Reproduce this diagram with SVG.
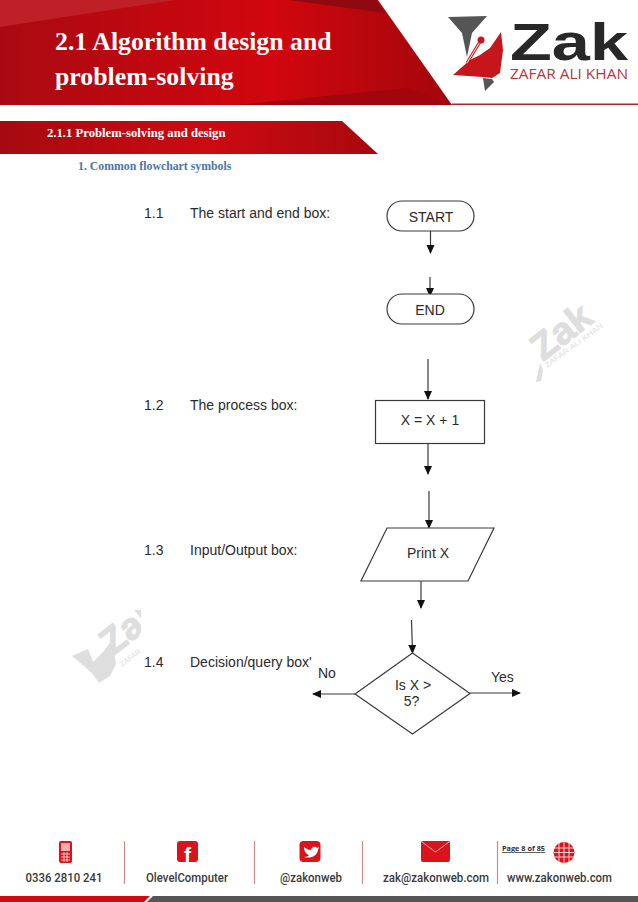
<svg xmlns="http://www.w3.org/2000/svg" width="638" height="902" viewBox="0 0 638 902">
<style>
.fc{font-family:"Liberation Sans",Arial,sans-serif;fill:#2b2b2b}
.t{font-size:14px}
.s{fill:#fff;stroke:#3a3a3a;stroke-width:1.2}
.l{fill:none;stroke:#3a3a3a;stroke-width:1.2}
.ser{font-family:"Liberation Serif","Times New Roman",serif;font-weight:bold}
.ft{font-family:"Roboto","Liberation Sans",sans-serif;font-size:12.500px;fill:#3a3a3a;font-weight:500;text-anchor:middle}
.sep{stroke:#cf8a8a;stroke-width:1.200}
.ic{fill:#d9141c}
.wm{fill:#dedede}
.wt{font-family:"Liberation Sans",sans-serif;fill:#dedede}
</style>
<defs>
<linearGradient id="g1" x1="0" y1="0" x2="1" y2="0"><stop offset="0" stop-color="#a90a12"/><stop offset="0.6" stop-color="#d2060e"/><stop offset="1" stop-color="#a3060c"/></linearGradient>
<linearGradient id="g2" x1="0" y1="0" x2="1" y2="0"><stop offset="0" stop-color="#a50a10"/><stop offset="0.55" stop-color="#cc0a12"/><stop offset="1" stop-color="#a8080e"/></linearGradient>
<marker id="a" markerWidth="9" markerHeight="9" refX="8" refY="4" orient="auto" markerUnits="userSpaceOnUse"><path d="M0 0L9 4L0 8Z" fill="#111"/></marker>
<clipPath id="wc"><rect x="60" y="610" width="81" height="85"/></clipPath>
</defs>
<rect width="638" height="902" fill="#fff"/>
<g id="header">
<path d="M0 0H378L452 105H0Z" fill="url(#g1)"/>
<path d="M0 0H175L0 27Z" fill="#bf2028"/>
<path d="M289 0H376L385 13Z" fill="#8f0a10"/>
<path d="M236 105L407 88L452 105Z" fill="#a0060c"/>
<rect x="452" y="103.500" width="186" height="1.500" fill="#a8282c"/>
<text class="ser" x="55" y="50" font-size="25.800" fill="#fff">2.1 Algorithm design and</text>
<text class="ser" x="55" y="85" font-size="25.800" fill="#fff">problem-solving</text>
</g>
<g id="logo">
<path d="M448 17L487 16L472 33L467 57L462 33Z" fill="#555"/>
<path d="M453 75L470 60L480 55L490 48L501 32L503 50L500 73L492 78L483 77Z" fill="#c5161c"/>
<path d="M483 78L492 79L494 82L485 91Z" fill="#555"/>
<path d="M467 63L481 40" fill="none" stroke="#c5161c" stroke-width="3"/>
<path d="M467 63L481 40" fill="none" stroke="#fff" stroke-width="1"/>
<circle cx="481" cy="40" r="3.500" fill="#c5161c"/>
<text x="510" y="60" font-family="'Liberation Sans',sans-serif" font-weight="bold" font-size="52" textLength="118" lengthAdjust="spacingAndGlyphs" fill="#282828">Zak</text>
<text x="510" y="79" font-family="'Open Sans','Liberation Sans',sans-serif" font-size="15" textLength="118" lengthAdjust="spacingAndGlyphs" fill="#b5383c">ZAFAR ALI KHAN</text>
</g>
<g id="section">
<path d="M0 121H342L378 154H0Z" fill="url(#g2)"/>
<text class="ser" x="47" y="137" font-size="12.700" fill="#fff">2.1.1 Problem-solving and design</text>
<text class="ser" x="78" y="170" font-size="11.800" fill="#4a76a8">1. Common flowchart symbols</text>
</g>
<g id="watermarks">
<text class="wt" transform="translate(543 362) rotate(-38)" font-weight="bold" font-size="38" textLength="66" lengthAdjust="spacingAndGlyphs" stroke="#dedede">Zak</text>
<text class="wt" transform="translate(547 368) rotate(-36)" font-size="7.500" textLength="70" lengthAdjust="spacingAndGlyphs">ZAFAR ALI KHAN</text>
<path d="M536 382L540 363L543 370L541 381Z" class="wm"/>
<path d="M72 656L88 649L93 662L104 651L112 640L116 664L110 676L99 683L92 673Z" class="wm"/>
<g clip-path="url(#wc)">
<text class="wt" transform="translate(112 657) rotate(-38)" font-weight="bold" font-size="38" stroke="#dedede">Zak</text>
<text class="wt" transform="translate(122 667) rotate(-36)" font-size="7.500">ZAFAR ALI KHAN</text>
</g>
</g>
<g id="connectors">
<path class="l" d="M430.500 230V253" marker-end="url(#a)"/>
<path class="l" d="M430 277V296" marker-end="url(#a)"/>
<path class="l" d="M428 359V399" marker-end="url(#a)"/>
<path class="l" d="M428 444V474" marker-end="url(#a)"/>
<path class="l" d="M429 491V528" marker-end="url(#a)"/>
<path class="l" d="M421 581V608" marker-end="url(#a)"/>
<path class="l" d="M411.500 620L412.500 653" marker-end="url(#a)"/>
<path class="l" d="M355 694H313" marker-end="url(#a)"/>
<path class="l" d="M470 693H520" marker-end="url(#a)"/>
</g>
<g id="labels">
<text class="fc t" x="144" y="218">1.1</text><text class="fc t" x="190" y="218">The start and end box:</text>
<text class="fc t" x="144" y="410">1.2</text><text class="fc t" x="190" y="410">The process box:</text>
<text class="fc t" x="144" y="555">1.3</text><text class="fc t" x="190" y="555">Input/Output box:</text>
<text class="fc t" x="144" y="667">1.4</text><text class="fc t" x="190" y="667">Decision/query box'</text>
<text class="fc t" x="318" y="678">No</text>
<text class="fc t" x="491" y="682">Yes</text>
</g>
<g id="start"><rect class="s" x="387" y="201" width="87" height="30" rx="15"/><text class="fc t" x="431" y="222" text-anchor="middle">START</text></g>
<g id="end"><rect class="s" x="387" y="294" width="87" height="30" rx="15"/><text class="fc t" x="430" y="315" text-anchor="middle">END</text></g>
<g id="process"><rect class="s" x="375.500" y="400.500" width="109" height="43"/><text class="fc t" x="430" y="425" text-anchor="middle">X = X + 1</text></g>
<g id="io"><path class="s" d="M387 528H494L468 581H361Z"/><text class="fc t" x="428" y="558" text-anchor="middle">Print X</text></g>
<g id="decision"><path class="s" d="M412.500 653L470 693.500L412.500 734L355 694Z"/><text class="fc t" x="413" y="690" text-anchor="middle">Is X &gt;</text><text class="fc t" x="411.500" y="706" text-anchor="middle">5?</text></g>
<g id="footer">
<rect x="59" y="841" width="13" height="22" rx="2" class="ic"/><rect x="61" y="843" width="9" height="8" fill="#f3b0b0"/><path d="M61 854H70M61 857H70M61 860H70M64 852V862M67 852V862" stroke="#fff" stroke-width="0.700"/>
<rect x="177" y="841" width="21" height="21" rx="3" class="ic"/><text x="184" y="862" font-family="'Liberation Sans',sans-serif" font-weight="bold" font-size="21" fill="#fff">f</text>
<rect x="299.500" y="841" width="21" height="21" rx="4" class="ic"/><path d="M304 847C308 850 310 850 311 850C312 846 316 846 317 848L319 847L318 850C317 856 311 859 304 857C307 857 308 856 309 855C306 854 304 851 304 847Z" fill="#fff"/>
<rect x="421" y="841" width="29" height="21" rx="2" class="ic"/><path d="M422 842L435.500 852L449 842" fill="none" stroke="#f3b0b0" stroke-width="1"/>
<circle cx="564" cy="852.500" r="10.500" class="ic"/><path d="M554 848H574M554 852.500H574M554 857H574M559 843V862M564 842V863M569 843V862" stroke="#fff" stroke-width="0.800"/>
<path class="sep" d="M124.500 841V884"/>
<path class="sep" d="M254.500 841V884"/>
<path class="sep" d="M362.500 841V884"/>
<path class="sep" d="M497.500 841V884"/>
<text class="ft" x="64" y="882" textLength="77" lengthAdjust="spacingAndGlyphs">0336 2810 241</text>
<text class="ft" x="187" y="882" textLength="82" lengthAdjust="spacingAndGlyphs">OlevelComputer</text>
<text class="ft" x="311" y="882" textLength="62" lengthAdjust="spacingAndGlyphs">@zakonweb</text>
<text class="ft" x="436" y="882" textLength="106" lengthAdjust="spacingAndGlyphs">zak@zakonweb.com</text>
<text class="ft" x="559.500" y="882" textLength="105" lengthAdjust="spacingAndGlyphs">www.zakonweb.com</text>
<text x="502" y="851" font-family="'Open Sans','Liberation Sans',sans-serif" font-weight="bold" font-size="7.800" textLength="43" lengthAdjust="spacingAndGlyphs" fill="#333" text-decoration="underline">Page 8 of 85</text>
<path d="M0 896H150L144 902H0Z" fill="#d4090f"/>
<path d="M153 896H638V902H147Z" fill="#555"/>
</g>
</svg>
